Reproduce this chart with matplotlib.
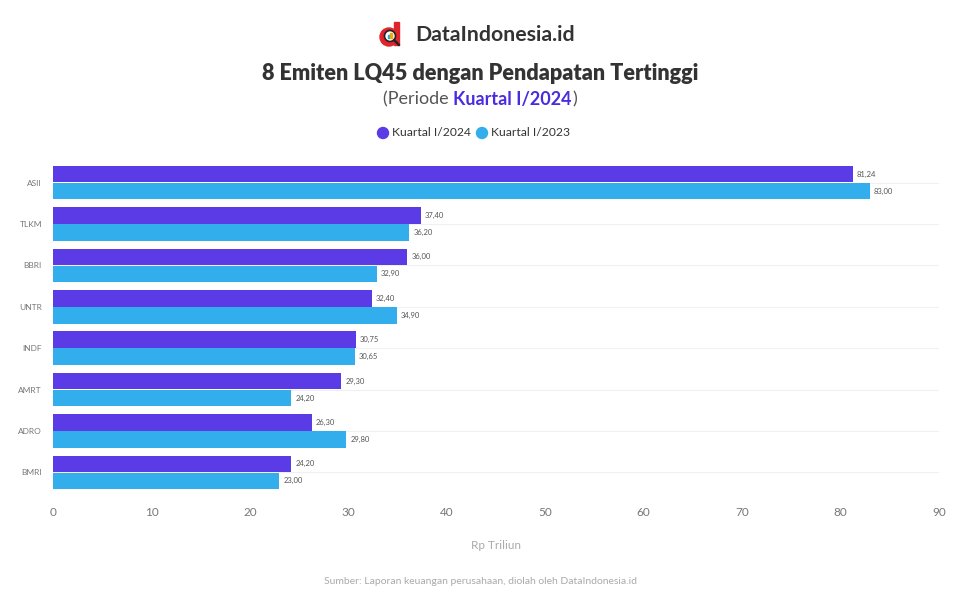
import matplotlib
matplotlib.use("Agg")
import matplotlib.pyplot as plt
from matplotlib.patches import Circle, Rectangle
import numpy as np

plt.rcParams['font.family'] = ['Lato', 'DejaVu Sans']

categories = ["ASII", "TLKM", "BBRI", "UNTR", "INDF", "AMRT", "ADRO", "BMRI"]
q1_2024 = [81.24, 37.40, 36.00, 32.40, 30.75, 29.30, 26.30, 24.20]
q1_2023 = [83.00, 36.20, 32.90, 34.90, 30.65, 24.20, 29.80, 23.00]
series_names = ["Kuartal I/2024", "Kuartal I/2023"]
xticks = [0, 10, 20, 30, 40, 50, 60, 70, 80, 90]

C_2024 = "#5a3be6"
C_2023 = "#32aeec"
W, H = 960, 600

fig = plt.figure(figsize=(9.6, 6), dpi=100)
fig.patch.set_facecolor("white")

def fx(px):
    return px / W

def fy(py):
    return 1 - py / H

# Plot area
ax = fig.add_axes([fx(53), fy(493), fx(939) - fx(53), fy(162) - fy(493)])
y = np.arange(len(categories))
bh = 0.40
off = 0.205
ax.barh(y - off, q1_2024, height=bh, color=C_2024, zorder=3)
ax.barh(y + off, q1_2023, height=bh, color=C_2023, zorder=3)

def fmt(v):
    return f"{v:.2f}".replace(".", ",")

for yi, v in zip(y, q1_2024):
    ax.text(v + 0.4, yi - off, fmt(v), va="center", ha="left", fontsize=5.5, color="#555555", zorder=4)
for yi, v in zip(y, q1_2023):
    ax.text(v + 0.4, yi + off, fmt(v), va="center", ha="left", fontsize=5.5, color="#555555", zorder=4)

ax.set_xlim(0, 90)
ax.set_ylim(len(categories) - 0.5, -0.5)
for yi in y:
    ax.axhline(yi, color="#f0f0f0", lw=0.8, zorder=1)
ax.set_yticks(y)
ax.set_yticklabels(categories, fontsize=6, color="#777777")
ax.set_xticks(xticks)
ax.set_xticklabels([str(t) for t in xticks], fontsize=8.5, color="#777777")
ax.tick_params(axis="both", length=0)
ax.tick_params(axis="x", pad=10)
ax.tick_params(axis="y", pad=8)
for s in ax.spines.values():
    s.set_visible(False)
ax.set_xlabel("Rp Triliun", fontsize=8.5, color="#aaaaaa", labelpad=16)

# Header
fig.text(fx(415), fy(35), "DataIndonesia.id", fontsize=15.3, fontweight="bold", color="#333333",
         ha="left", va="center")
fig.text(fx(480), fy(74), "8 Emiten LQ45 dengan Pendapatan Tertinggi", fontsize=15.6,
         fontweight="heavy", color="#333333", ha="center", va="center")

# Subtitle with mixed styles
sub_y = fy(99)
t1 = fig.text(fx(380), sub_y, "(Periode ", fontsize=13, color="#555555", ha="left", va="center")
fig.canvas.draw()
r = fig.canvas.get_renderer()
bb = t1.get_window_extent(r)
t2 = fig.text(bb.x1 / W, sub_y, "Kuartal I/2024", fontsize=13, fontweight="bold",
              color="#4b2be0", ha="left", va="center")
bb2 = t2.get_window_extent(r)
t3 = fig.text(bb2.x1 / W, sub_y, ")", fontsize=13, color="#555555", ha="left", va="center")
bb3 = t3.get_window_extent(r)
total = bb3.x1 - bb.x0
shift = (480 - total / 2) - bb.x0
for t in (t1, t2, t3):
    x0, y0 = t.get_position()
    t.set_position((x0 + shift / W, y0))

# Legend
oa = fig.add_axes([0, 0, 1, 1], zorder=10)
oa.set_xlim(0, W)
oa.set_ylim(H, 0)
oa.axis("off")
oa.add_patch(Circle((383, 133), 5.5, color=C_2024))
oa.text(392, 133, series_names[0], fontsize=8.7, color="#333333", va="center", ha="left")
oa.add_patch(Circle((482, 133), 5.5, color=C_2023))
oa.text(491, 133, series_names[1], fontsize=8.7, color="#333333", va="center", ha="left")

# Logo
oa.add_patch(Circle((389, 37), 9, color="#e0242b"))
oa.add_patch(Rectangle((394, 22), 5, 23, color="#e0242b"))
oa.add_patch(Circle((390, 36), 5.5, facecolor="white", edgecolor="#222222", lw=1.2))
oa.plot([394, 399], [40, 45], color="#222222", lw=1.8, solid_capstyle="round")
oa.add_patch(Rectangle((388, 35), 1.5, 3, color="#2fa3e0"))
oa.add_patch(Rectangle((390, 33), 1.5, 5, color="#f2a900"))

# Source
fig.text(fx(480), fy(582), "Sumber: Laporan keuangan perusahaan, diolah oleh DataIndonesia.id",
         fontsize=7.5, color="#aaaaaa", ha="center", va="center")

fig.savefig("out.png", dpi=100, facecolor="white")
